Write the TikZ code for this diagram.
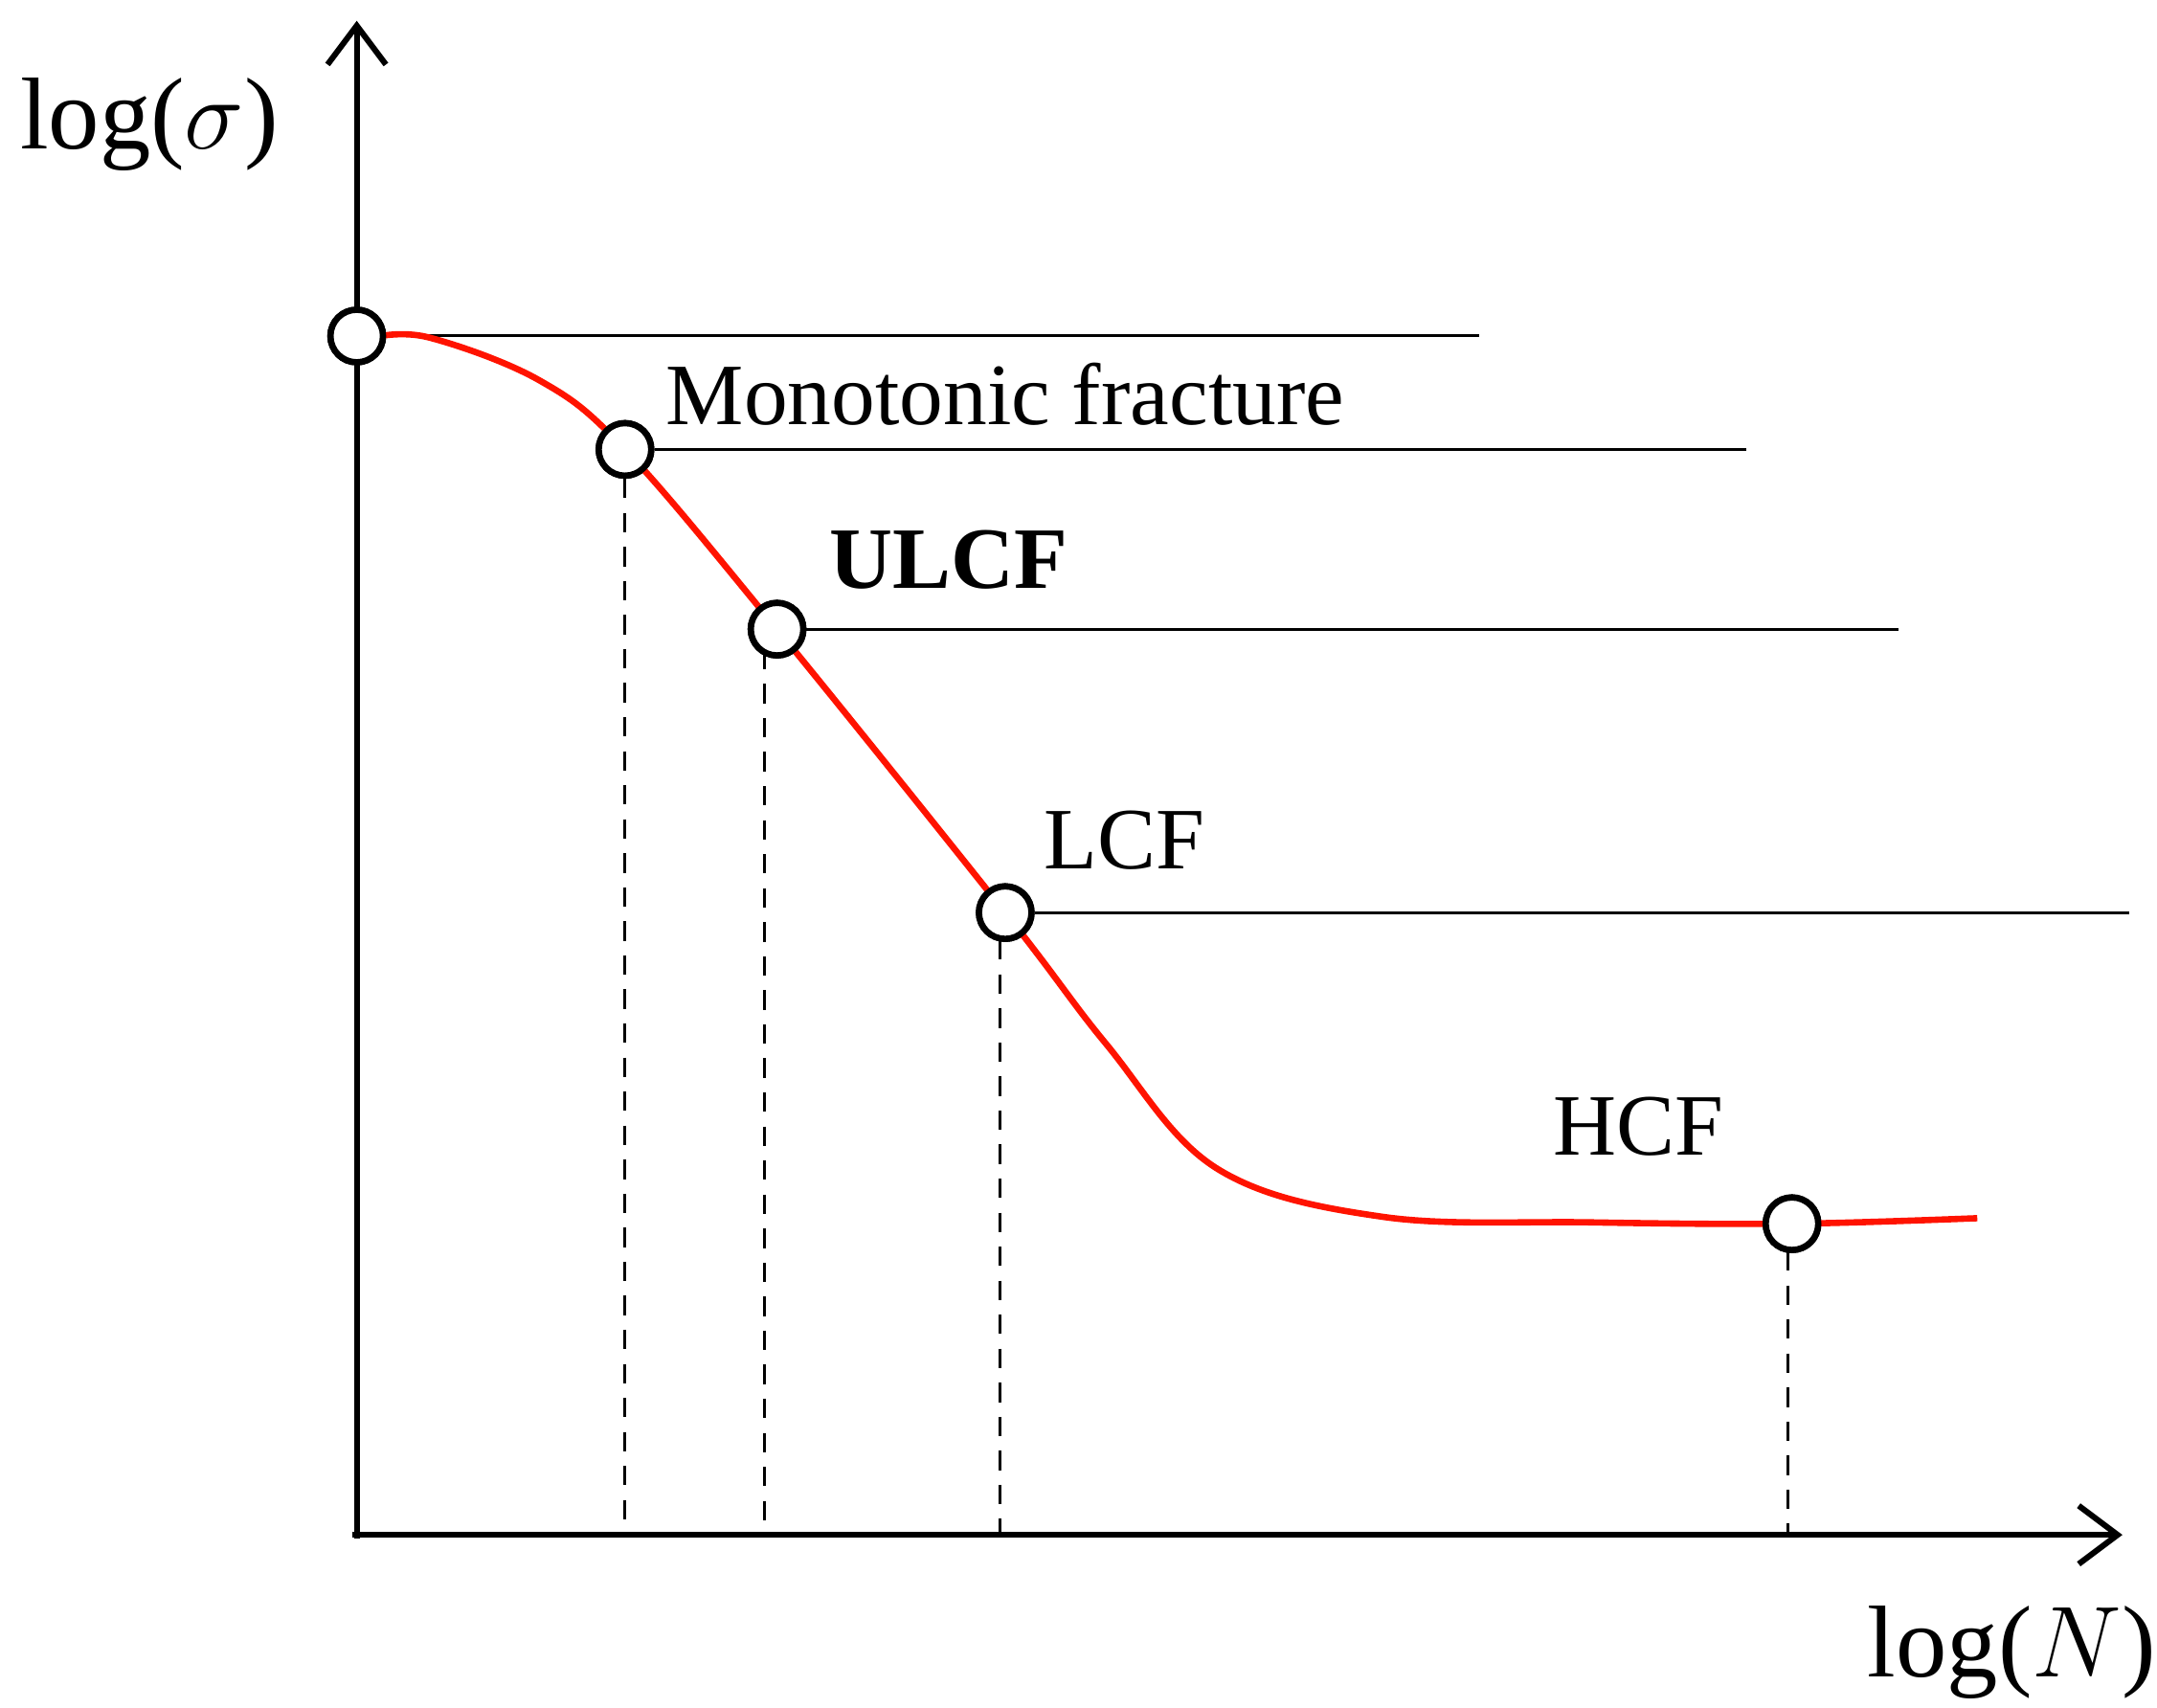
\documentclass[tikz,border=0pt]{standalone}
\usepackage{fontspec}
\setmainfont{Liberation Serif}
\usetikzlibrary{arrows.meta}
\begin{document}
\begin{tikzpicture}[x=0.01cm,y=-0.01cm,
  axis/.style={line width=1.2pt,-{Straight Barb[length=8pt,width=12pt,line width=1.2pt]}},
  level/.style={line width=0.6pt},
  drop/.style={line width=0.6pt,dashed,dash pattern=on 4pt off 3pt},
  pt/.style={circle,draw,fill=white,line width=1.3pt,minimum size=0.38cm,inner sep=0pt},
  lbl/.style={font=\fontsize{18}{20}\selectfont,inner sep=0pt}]
\useasboundingbox (0,0) rectangle (1560,1235);
\coordinate (O) at (255,1110);
\coordinate (ytop) at (258,15);
\coordinate (xend) at (1535,1110);
\node[pt] (p0) at (258,243) {};
\node[pt] (p1) at (452,325) {};
\node[pt] (p2) at (562,455) {};
\node[pt] (p3) at (727,660) {};
\node[pt] (p4) at (1296,885) {};
\coordinate (e0) at (1070,243);
\coordinate (e1) at (1263,325);
\coordinate (e2) at (1373,455);
\coordinate (e3) at (1540,660);
\coordinate (b1) at (452,1110);
\coordinate (b2) at (553,1110);
\coordinate (b3) at (723,1110);
\coordinate (b4) at (1293,1110);
\draw[drop] (p1) -- (b1);
\draw[drop] (553,470) -- (b2);
\draw[drop] (723,680) -- (b3);
\draw[drop] (1293,905) -- (b4);
\draw[level] (p0) -- (e0);
\draw[level] (p1) -- (e1);
\draw[level] (p2) -- (e2);
\draw[level] (p3) -- (e3);
\draw[red!85!orange,line width=1.3pt] plot[smooth,tension=0.6] coordinates {(270,244) (310,244) (390,275) (452,325) (562,455) (727,660) (800,755) (880,845) (1000,880) (1150,884) (1296,885) (1430,881)};
\draw[axis] (258,1113) -- (ytop);
\draw[axis] (O) -- (xend);
\node[pt] at (258,243) {};
\node[pt] at (452,325) {};
\node[pt] at (562,455) {};
\node[pt] at (727,660) {};
\node[pt] at (1296,885) {};
\node[lbl,font=\fontsize{21}{24}\selectfont] (ly) at (108,90) {log($\sigma$)};
\node[lbl,font=\fontsize{21}{24}\selectfont] (lx) at (1455,1195) {log($N$)};
\node[lbl] (m) at (727,285) {Monotonic fracture};
\node[lbl] (u) at (686,405) {\textbf{ULCF}};
\node[lbl] (l) at (813,608) {LCF};
\node[lbl] (h) at (1185,815) {HCF};
\end{tikzpicture}
\end{document}
